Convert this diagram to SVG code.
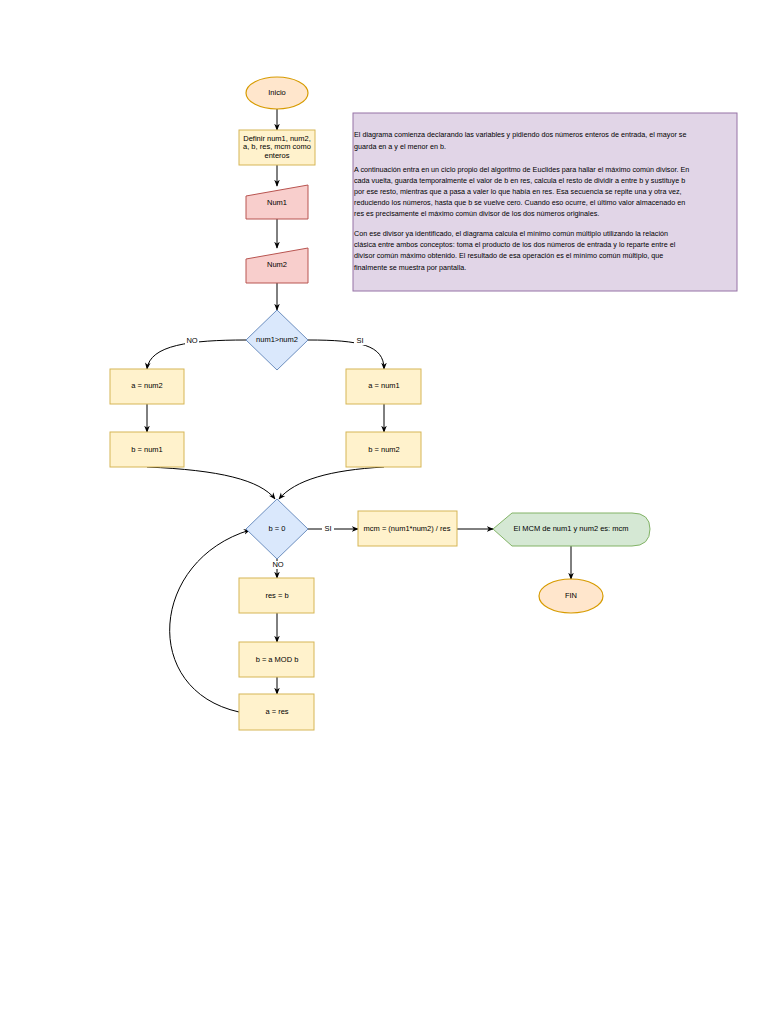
<svg xmlns="http://www.w3.org/2000/svg" width="768" height="1024" viewBox="0 0 768 1024">
<style>
text{font-family:"Liberation Sans",Arial,sans-serif;font-size:7.5px;fill:#000;text-anchor:middle;dominant-baseline:middle}
.proc{fill:#fff2cc;stroke:#d6b656;stroke-width:1}
.term{fill:#ffe6cc;stroke:#d79b00;stroke-width:1.2}
.inp{fill:#f8cecc;stroke:#b85450;stroke-width:1}
.dec{fill:#dae8fc;stroke:#6c8ebf;stroke-width:1}
.out{fill:#d5e8d4;stroke:#82b366;stroke-width:1}
.c{fill:none;stroke:#000;stroke-width:1;marker-end:url(#ah)}
.note text{text-anchor:start;font-size:7.2px}
</style>
<defs><marker id="ah" viewBox="0 0 10 10" refX="9" refY="5" markerWidth="7" markerHeight="7" orient="auto"><path d="M0,1 L10,5 L0,9 L3,5z" fill="#000"/></marker></defs>
<rect width="768" height="1024" fill="#fff"/>
<g id="connectors">
<path class="c" d="M277,109 V130"/>
<path class="c" d="M277,165 V186"/>
<path class="c" d="M277,219 V248"/>
<path class="c" d="M277,283 V310"/>
<path class="c" d="M246,340 C190,340 150,345 147,369"/>
<path class="c" d="M308,340 C360,340 384,345 384,369"/>
<path class="c" d="M147,404 V432"/>
<path class="c" d="M384,404 V432"/>
<path class="c" d="M147,467 C220,470 260,480 275,499"/>
<path class="c" d="M384,467 C330,470 295,480 279,499"/>
<path class="c" d="M308,529 H358"/>
<path class="c" d="M457,529 H493"/>
<path class="c" d="M571,546 V579"/>
<path class="c" d="M277,559 V578"/>
<path class="c" d="M277,613 V642"/>
<path class="c" d="M277,677 V694"/>
<path class="c" d="M239,712 C140,690 150,560 250,530"/>
<rect x="185" y="337" width="14" height="8" fill="#fff"/><text x="192" y="341">NO</text>
<rect x="354" y="337" width="12" height="8" fill="#fff"/><text x="360" y="341">SI</text>
<rect x="322" y="525" width="12" height="8" fill="#fff"/><text x="328" y="529">SI</text>
<rect x="270" y="561" width="15" height="8" fill="#fff"/><text x="278" y="565">NO</text>
</g>
<g id="inicio"><ellipse class="term" cx="277" cy="93" rx="31" ry="16"/><text x="277" y="93">Inicio</text></g>
<g id="definir"><rect class="proc" x="239" y="130" width="76" height="35"/><text x="277" y="139">Definir num1, num2,</text><text x="277" y="147.5">a, b, res, mcm como</text><text x="277" y="156">enteros</text></g>
<g id="num1"><path class="inp" d="M246,196 L308,185 V219 H246 Z"/><text x="277" y="203">Num1</text></g>
<g id="num2"><path class="inp" d="M246,259 L308,248 V283 H246 Z"/><text x="277" y="265">Num2</text></g>
<g id="d1"><path class="dec" d="M277,310 L308,340 L277,370 L246,340 Z"/><text x="277" y="340">num1&gt;num2</text></g>
<g id="an2"><rect class="proc" x="110" y="369" width="74" height="35"/><text x="147" y="386">a = num2</text></g>
<g id="an1"><rect class="proc" x="346" y="369" width="75" height="35"/><text x="384" y="386">a = num1</text></g>
<g id="bn1"><rect class="proc" x="110" y="432" width="74" height="35"/><text x="147" y="450">b = num1</text></g>
<g id="bn2"><rect class="proc" x="346" y="432" width="75" height="35"/><text x="384" y="450">b = num2</text></g>
<g id="d2"><path class="dec" d="M277,499 L308,529 L277,559 L246,529 Z"/><text x="277" y="529">b = 0</text></g>
<g id="mcm"><rect class="proc" x="358" y="511" width="99" height="35"/><text x="407" y="529">mcm = (num1*num2) / res</text></g>
<g id="out"><path class="out" d="M493,529 L512,513 H632 Q650,513 650,529 Q650,546 632,546 H512 Z"/><text x="571" y="529">El MCM de num1 y num2 es: mcm</text></g>
<g id="fin"><ellipse class="term" cx="571" cy="596" rx="32" ry="17"/><text x="571" y="596">FIN</text></g>
<g id="resb"><rect class="proc" x="239" y="578" width="75" height="35"/><text x="277" y="596">res = b</text></g>
<g id="bmod"><rect class="proc" x="239" y="642" width="75" height="35"/><text x="277" y="660">b = a MOD b</text></g>
<g id="ares"><rect class="proc" x="239" y="694" width="75" height="36"/><text x="277" y="712">a = res</text></g>
<g id="note" class="note"><rect x="353" y="113" width="384" height="178" fill="#e1d5e7" stroke="#9673a6"/>
<text x="354" y="135">El diagrama comienza declarando las variables y pidiendo dos números enteros de entrada, el mayor se</text>
<text x="354" y="147">guarda en a y el menor en b.</text>
<text x="354" y="170">A continuación entra en un ciclo propio del algoritmo de Euclides para hallar el máximo común divisor. En</text>
<text x="354" y="181">cada vuelta, guarda temporalmente el valor de b en res, calcula el resto de dividir a entre b y sustituye b</text>
<text x="354" y="192">por ese resto, mientras que a pasa a valer lo que había en res. Esa secuencia se repite una y otra vez,</text>
<text x="354" y="203">reduciendo los números, hasta que b se vuelve cero. Cuando eso ocurre, el último valor almacenado en</text>
<text x="354" y="214">res es precisamente el máximo común divisor de los dos números originales.</text>
<text x="354" y="234">Con ese divisor ya identificado, el diagrama calcula el mínimo común múltiplo utilizando la relación</text>
<text x="354" y="245">clásica entre ambos conceptos: toma el producto de los dos números de entrada y lo reparte entre el</text>
<text x="354" y="256">divisor común máximo obtenido. El resultado de esa operación es el mínimo común múltiplo, que</text>
<text x="354" y="268">finalmente se muestra por pantalla.</text>
</g>
</svg>
